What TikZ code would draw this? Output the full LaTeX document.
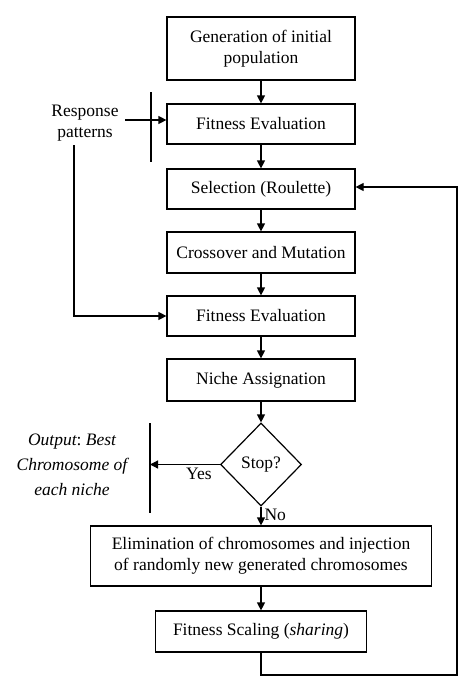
\documentclass[tikz,border=0pt]{standalone}
\usepackage{fontspec}
\setmainfont{Liberation Serif}
\usetikzlibrary{shapes.geometric,arrows.meta}
\begin{document}
\begin{tikzpicture}[x=1pt,y=-1pt,
  every node/.style={font=\fontsize{17.5}{21}\selectfont},
  box/.style={draw,line width=1.2pt,minimum width=188pt,minimum height=40pt,inner sep=0pt,align=center},
  dia/.style={draw,line width=1.2pt,diamond,minimum width=81pt,minimum height=83pt,inner sep=0pt},
  conn/.style={line width=1.2pt,-{Triangle[length=8pt,width=8pt]}},
  plain/.style={line width=1.2pt},
  lbl/.style={align=center,inner sep=0pt}]
\useasboundingbox (0,0) rectangle (474,693);
\node[box,minimum height=63pt] (gen) at (261,48.5) {Generation of initial\\population};
\node[box] (fe1) at (261,124) {Fitness Evaluation};
\node[box] (sel) at (261,189) {Selection (Roulette)};
\node[box,minimum height=41pt] (cross) at (261,252.5) {Crossover and Mutation};
\node[box] (fe2) at (261,316) {Fitness Evaluation};
\node[box,minimum height=42pt] (niche) at (261,380) {Niche Assignation};
\node[dia] (stop) at (261,464.5) {Stop?};
\node[box,minimum width=341pt,minimum height=60pt] (elim) at (261,556) {Elimination of chromosomes and injection\\of randomly new generated chromosomes};
\node[box,minimum width=211pt,minimum height=41pt] (scal) at (261,631.5) {Fitness Scaling (\textit{sharing})};
\node[lbl] (resp) at (85,123) {Response\\patterns};
\node[lbl,font=\fontsize{17.5}{25}\selectfont\itshape] (out) at (72,465) {Output\upshape:\itshape\ Best\\Chromosome of\\each niche};
\coordinate (bar1t) at (151,92);
\coordinate (bar1b) at (151,162);
\coordinate (bar2t) at (150,423);
\coordinate (bar2b) at (150,513);
\coordinate (respr) at (125,120);
\coordinate (loopA) at (261,675);
\coordinate (loopB) at (457,675);
\coordinate (loopC) at (457,187);
\coordinate (respdown) at (74,145);
\coordinate (respcorner) at (74,316);
\draw[plain] (bar1t) -- (bar1b);
\draw[plain] (bar2t) -- (bar2b);
\draw[conn] (gen) -- (fe1);
\draw[conn] (fe1) -- (sel);
\draw[conn] (sel) -- (cross);
\draw[conn] (cross) -- (fe2);
\draw[conn] (fe2) -- (niche);
\draw[conn] (niche) -- (stop);
\draw[conn] (stop.south) -- node[right,inner sep=3pt,pos=0.45] {No} (elim.north);
\draw[conn] (elim.south) -- (scal.north);
\draw[conn] (stop.west) -- node[below,inner sep=3pt,pos=0.3] {Yes} (stop.west -| bar2t);
\draw[conn] (respr) -- (respr -| fe1.west);
\draw[conn] (respdown) -- (respcorner) -- (fe2.west);
\draw[conn] (scal.south) -- (loopA) -- (loopB) -- (loopC) -- (sel.east |- loopC);
\end{tikzpicture}
\end{document}
